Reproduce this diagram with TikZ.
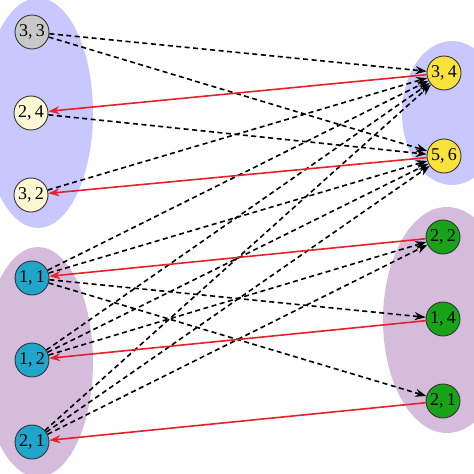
\documentclass[tikz,border=0pt]{standalone}
\usepackage{fontspec}
\setmainfont{Liberation Serif}
\usetikzlibrary{arrows.meta}
\definecolor{grayfill}{HTML}{C8C8C8}
\definecolor{creamfill}{HTML}{FDF8D4}
\definecolor{cyanfill}{HTML}{20A6CB}
\definecolor{yellowfill}{HTML}{F9E23C}
\definecolor{greenfill}{HTML}{18A318}
\definecolor{blueblob}{HTML}{C8C8FF}
\definecolor{purpleblob}{HTML}{D6BCDC}
\definecolor{redline}{HTML}{E8202A}
\newcommand{\pairlabel}[2]{#1,\hspace{0.17em}#2}
\tikzset{
  vert/.style={circle, draw=black!80, line width=0.9pt, minimum size=34pt, inner sep=0pt, font=\fontsize{18}{18}\selectfont},
  dashedge/.style={draw=black, dashed, dash pattern=on 5pt off 3.5pt, line width=1.6pt, -{Stealth[length=11pt,width=8pt]}},
  rededge/.style={draw=redline, line width=1.6pt, -{Stealth[length=11pt,width=8pt]}},
}
\begin{document}
\begin{tikzpicture}[x=1pt,y=-1pt]
\useasboundingbox (0,0) rectangle (474,474);
% blobs
\fill[blueblob] (38,113) ellipse [x radius=55, y radius=115];
\fill[purpleblob] (38,362) ellipse [x radius=55, y radius=115];
\fill[blueblob] (452,113) ellipse [x radius=50, y radius=72];
\fill[purpleblob] (447,320) ellipse [x radius=64, y radius=113];
% left nodes
\node[vert, fill=grayfill] (a33) at (32,32) {\pairlabel{3}{3}};
\node[vert, fill=creamfill] (a24) at (31,113) {\pairlabel{2}{4}};
\node[vert, fill=creamfill] (a32) at (31,195) {\pairlabel{3}{2}};
\node[vert, fill=cyanfill] (a11) at (32,278) {\pairlabel{1}{1}};
\node[vert, fill=cyanfill] (a12) at (32,360) {\pairlabel{1}{2}};
\node[vert, fill=cyanfill] (a21) at (32,442) {\pairlabel{2}{1}};
% right nodes
\node[vert, fill=yellowfill] (b34) at (444,73) {\pairlabel{3}{4}};
\node[vert, fill=yellowfill] (b56) at (444,156) {\pairlabel{5}{6}};
\node[vert, fill=greenfill] (b22) at (443,237) {\pairlabel{2}{2}};
\node[vert, fill=greenfill] (b14) at (443,319) {\pairlabel{1}{4}};
\node[vert, fill=greenfill] (b21) at (443,401) {\pairlabel{2}{1}};
% dashed edges
\draw[dashedge] (a33) -- (b34);
\draw[dashedge] (a33) -- (b56);
\draw[dashedge] (a24) -- (b56);
\draw[dashedge] (a32) -- (b34);
\draw[dashedge] (a11) -- (b34);
\draw[dashedge] (a11) -- (b56);
\draw[dashedge] (a11) -- (b14);
\draw[dashedge] (a11) -- (b21);
\draw[dashedge] (a12) -- (b34);
\draw[dashedge] (a12) -- (b56);
\draw[dashedge] (a12) -- (b22);
\draw[dashedge] (a21) -- (b34);
\draw[dashedge] (a21) -- (b56);
\draw[dashedge] (a21) -- (b22);
% red edges
\draw[rededge] (b34) -- (a24);
\draw[rededge] (b56) -- (a32);
\draw[rededge] (b22) -- (a11);
\draw[rededge] (b14) -- (a12);
\draw[rededge] (b21) -- (a21);
\end{tikzpicture}
\end{document}
